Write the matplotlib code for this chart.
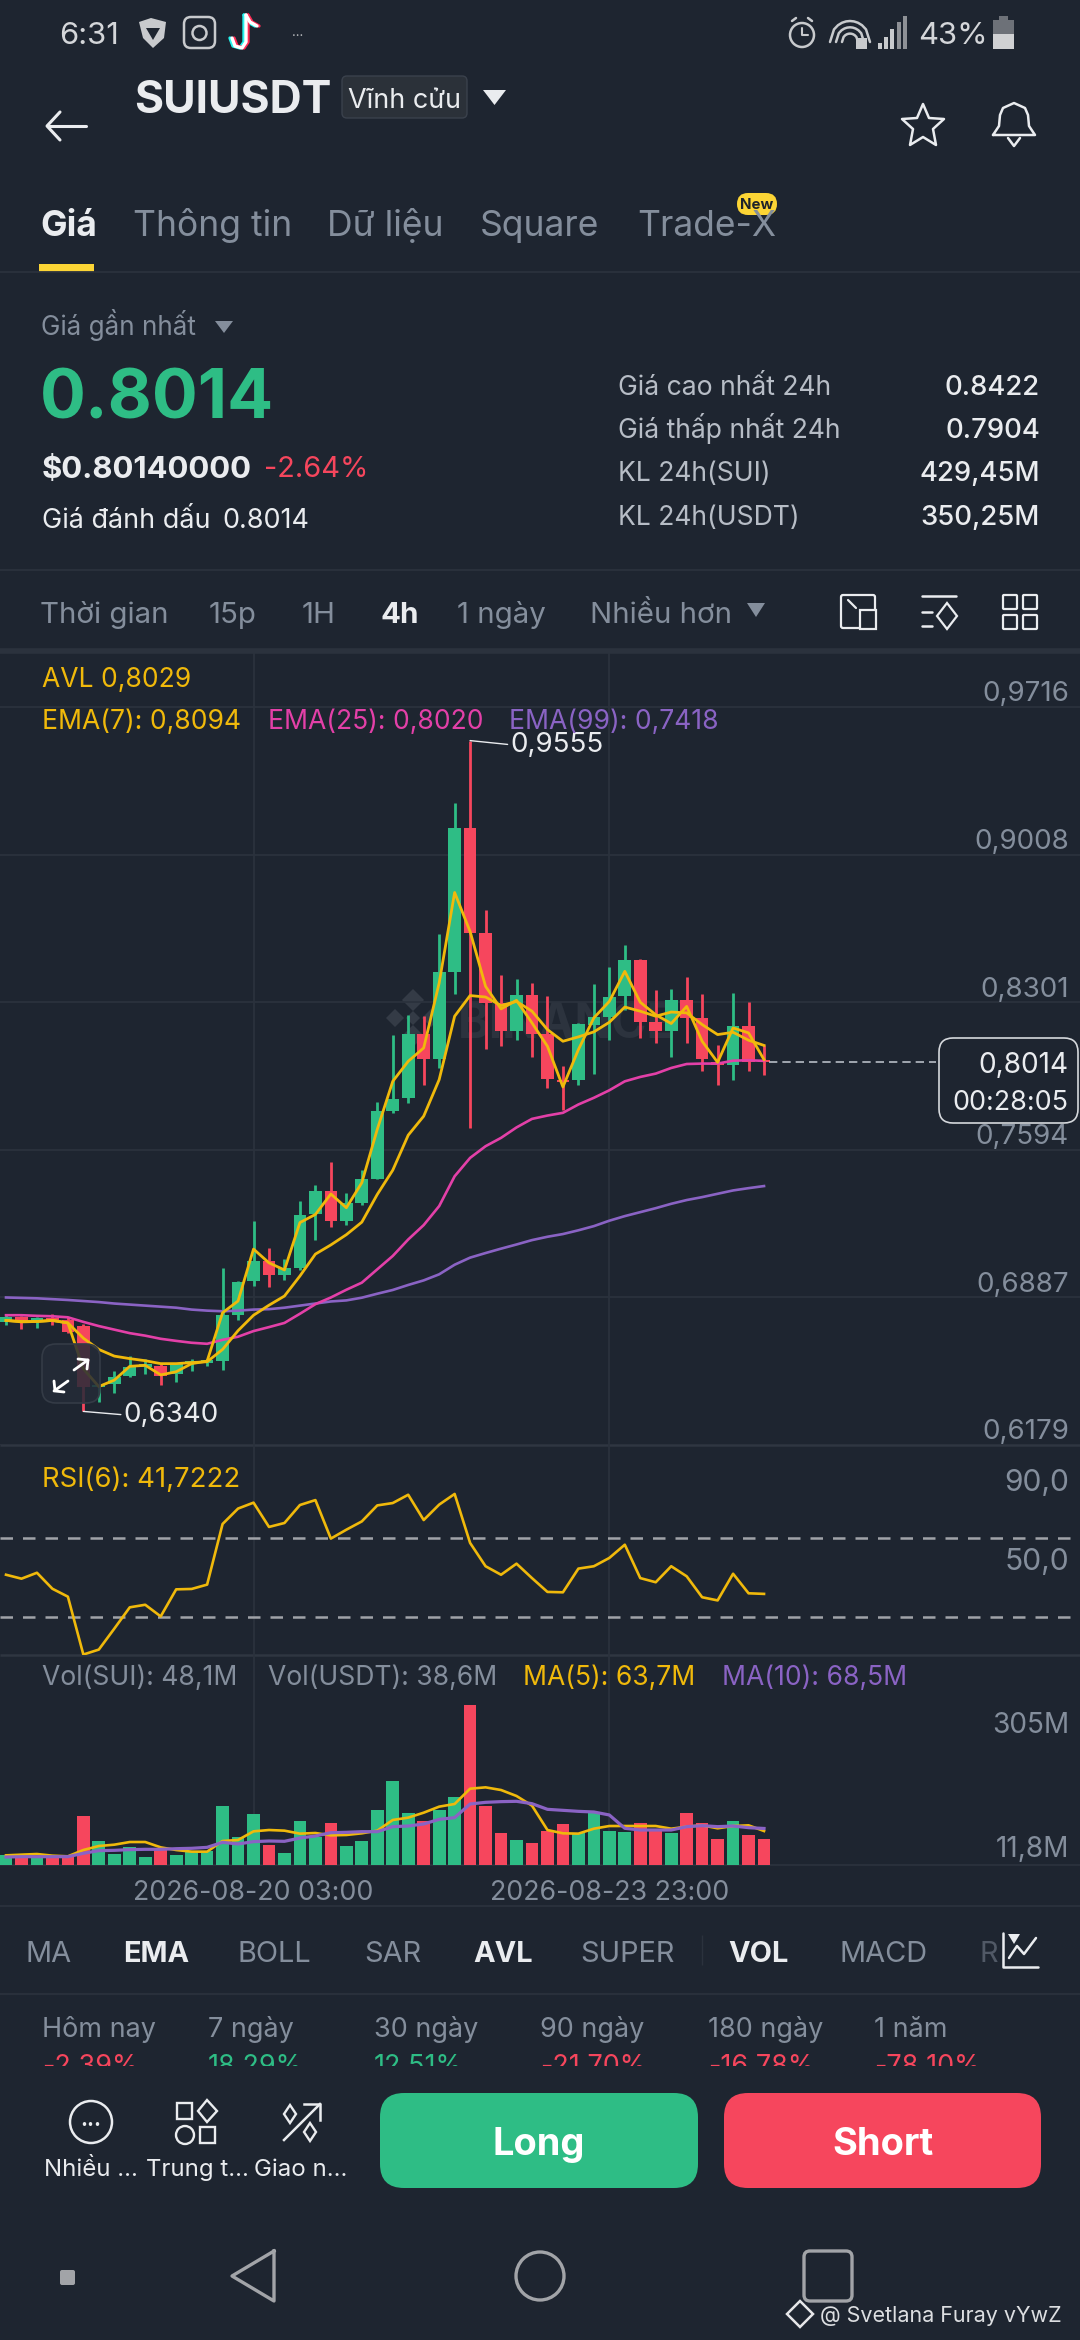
import matplotlib
matplotlib.use('Agg')
import matplotlib.pyplot as plt
from matplotlib.patches import FancyBboxPatch, Polygon, Circle, Rectangle

plt.rcParams['font.family'] = ['Inter', 'Noto Sans', 'DejaVu Sans']

# candles
opens = [.6769, .6793, .6769, .6788, .6776, .6749, .6456, .6471, .6510, .6551,
         .6556, .6520, .6569, .6574, .6581, .6801, .6964, .7062, .6994, .7028,
         .7284, .7394, .7252, .7338, .7455, .7780, .7843, .8151, .8029, .8444,
         .9137, .8633, .8297, .8162, .8337, .8149, .7930, .7926, .8194, .8230,
         .8329, .8505, .8205, .8162, .8313, .8226, .8013, .8001, .8189, .8023]
closes = [.6793, .6769, .6788, .6774, .6720, .6459, .6466, .6503, .6551, .6569,
          .6512, .6569, .6581, .6588, .6801, .6959, .7062, .6996, .7025, .7282,
          .7394, .7252, .7338, .7453, .7778, .7839, .8151, .8029, .8444, .9137,
          .8633, .8297, .8162, .8337, .8151, .7934, .7921, .8197, .8230, .8326,
          .8502, .8205, .8162, .8313, .8226, .8029, .8001, .8189, .8013, .8014]
highs = [.6808, .6798, .6793, .6808, .6793, .6759, .6466, .6532, .6605, .6593,
         .6569, .6574, .6591, .6593, .7028, .6964, .7252, .7125, .7069, .7350,
         .7423, .7536, .7387, .7497, .7824, .8144, .8242, .8234, .8629, .9255,
         .9555, .8744, .8431, .8412, .8393, .8333, .7997, .8202, .8390, .8468,
         .8577, .8508, .8361, .8364, .8422, .8342, .8098, .8345, .8304, .8098]
lows = [.6752, .6735, .6740, .6752, .6715, .6340, .6385, .6429, .6505, .6520,
        .6466, .6483, .6532, .6556, .6539, .6779, .6940, .6935, .6972, .7020,
        .7160, .7223, .7235, .7331, .7453, .7770, .7816, .7902, .7986, .8342,
        .7699, .8077, .8090, .8119, .8037, .7889, .7784, .7906, .7959, .8122,
        .8266, .8130, .8106, .8039, .8106, .7973, .7903, .7930, .7973, .7951]

# overlays on the price panel
avl = [.6776, .6769, .6771, .6776, .6764, .6544, .6459, .6490, .6556, .6561,
       .6515, .6530, .6569, .6581, .6813, .6869, .7118, .7052, .7018, .7245,
       .7284, .7382, .7316, .7436, .7692, .7922, .8018, .8082, .8393, .8827,
       .8640, .8377, .8269, .8310, .8202, .8090, .7895, .8074, .8226, .8305,
       .8449, .8301, .8241, .8199, .8281, .8114, .8013, .8178, .8154, .8026]
ema7 = [.6776, .6771, .6771, .6776, .6764, .6691, .6637, .6605, .6593, .6583,
        .6569, .6569, .6574, .6578, .6637, .6727, .6801, .6849, .6893, .6989,
        .7094, .7138, .7187, .7247, .7380, .7496, .7664, .7755, .7930, .8234,
        .8333, .8326, .8285, .8305, .8258, .8170, .8114, .8135, .8159, .8205,
        .8278, .8258, .8234, .8254, .8250, .8194, .8146, .8157, .8119, .8094]
ema25 = [.6801, .6801, .6798, .6796, .6791, .6769, .6749, .6732, .6715, .6703,
         .6688, .6678, .6669, .6664, .6683, .6698, .6725, .6744, .6764, .6808,
         .6854, .6886, .6923, .6957, .7021, .7085, .7164, .7233, .7324, .7467,
         .7555, .7611, .7651, .7701, .7742, .7758, .7771, .7811, .7843, .7879,
         .7922, .7943, .7959, .7986, .8005, .8007, .8007, .8021, .8023, .8020]
ema99 = [.6886, .6884, .6882, .6878, .6874, .6869, .6864, .6857, .6852, .6847,
         .6842, .6837, .6828, .6823, .6820, .6823, .6828, .6830, .6837, .6847,
         .6857, .6867, .6872, .6885, .6904, .6922, .6946, .6968, .6997, .7043,
         .7077, .7099, .7120, .7140, .7161, .7177, .7190, .7208, .7228, .7254,
         .7276, .7295, .7314, .7335, .7353, .7367, .7383, .7399, .7410, .7420]

rsi = [51.4, 49.4, 52.4, 44.3, 40.3, 11.0, 13.5, 24.1, 34.9, 36.2,
       30.3, 44.0, 44.2, 46.4, 77.1, 84.9, 87.9, 75.6, 77.6, 86.7,
       89.2, 69.7, 74.2, 78.4, 86.5, 87.7, 91.9, 79.1, 86.9, 92.3,
       67.5, 55.7, 51.4, 57.0, 49.7, 42.7, 42.5, 54.5, 55.7, 59.9,
       66.6, 49.7, 47.6, 55.7, 50.6, 40.0, 38.4, 51.9, 42.0, 41.7]

# volume in millions
volume = [18.8, 12.5, 14.4, 12.5, 15.6, 91.9, 45.6, 20.6, 34.4, 15.0,
          31.3, 18.8, 25.0, 26.9, 110.0, 53.1, 95.0, 38.1, 21.9, 83.1,
          53.1, 78.8, 36.3, 45.6, 102.5, 158.1, 97.5, 81.9, 103.1, 126.9,
          300.0, 110.6, 59.4, 46.9, 41.9, 64.4, 77.5, 59.4, 96.9, 63.8,
          61.9, 78.8, 64.4, 59.4, 97.5, 79.4, 48.1, 82.5, 55.6, 48.1]
vol_ma5 = [18.1, 19.4, 20.6, 17.5, 16.3, 28.1, 35.6, 38.1, 43.1, 43.1,
           33.1, 28.1, 25.0, 25.0, 45.0, 46.9, 63.1, 65.6, 64.4, 58.8,
           60.0, 55.6, 56.3, 59.4, 64.4, 84.4, 88.8, 98.1, 109.4, 114.4,
           143.1, 145.6, 140.6, 129.4, 111.3, 65.6, 59.4, 58.8, 68.1, 73.1,
           73.1, 73.1, 73.1, 68.1, 71.9, 74.4, 68.8, 73.1, 74.4, 63.7]
vol_ma10 = [15.0, 15.6, 15.6, 15.6, 15.6, 21.9, 26.9, 27.5, 28.8, 29.4,
            29.4, 30.6, 31.3, 33.1, 42.5, 39.4, 43.8, 45.0, 44.4, 50.6,
            54.4, 60.6, 61.3, 62.5, 62.5, 71.9, 73.1, 76.9, 85.6, 88.8,
            114.4, 117.5, 118.8, 119.4, 115.0, 104.4, 102.5, 100.6, 99.4, 93.8,
            68.8, 65.6, 65.6, 65.6, 71.9, 73.8, 71.9, 73.1, 70.0, 68.5]

price_ticks = [.9716, .9008, .8301, .7594, .6887, .6179]
price_labels = ['0,9716', '0,9008', '0,8301', '0,7594', '0,6887', '0,6179']
date_idx = [16, 39]
date_labels = ['2026-08-20 03:00', '2026-08-23 23:00']
tabs = ['Thông tin', 'Dữ liệu', 'Square', 'Trade-X']
tab_x = [133, 327, 480, 637]
periods = ['Thời gian', '15p', '1H', '1 ngày', 'Nhiều hơn']
period_x = [40, 209, 302, 457, 590]
stats_labels = ['Giá cao nhất 24h', 'Giá thấp nhất 24h', 'KL 24h(SUI)', 'KL 24h(USDT)']
stats_values = ['0.8422', '0.7904', '429,45M', '350,25M']
stats_y = [385, 428, 471, 515]
indicators = ['MA', 'EMA', 'BOLL', 'SAR', 'AVL', 'SUPER', 'VOL', 'MACD']
indicator_x = [25, 123, 238, 364, 473, 580, 728, 840]
indicator_on = ['EMA', 'AVL', 'VOL']
change_labels = ['Hôm nay', '7 ngày', '30 ngày', '90 ngày', '180 ngày', '1 năm']
change_values = ['-2,39%', '18,29%', '12,51%', '-21,70%', '-16,78%', '-78,10%']
change_x = [42, 208, 374, 540, 708, 874]

bg = '#1e2530'
grid = '#2b323d'
green = '#2ebd85'
red = '#f6465d'
yellow = '#f0b90b'
pink = '#e340a8'
purple = '#8a63c4'
grey = '#848e9c'
light = '#eaecef'

W, H = 1080, 2340
fig = plt.figure(figsize=(W / 100, H / 100), dpi=100, facecolor=bg)


def pixel_axes(z):
    a = fig.add_axes([0, 0, 1, 1], zorder=z)
    a.set_xlim(0, W)
    a.set_ylim(H, 0)
    a.axis('off')
    a.patch.set_alpha(0)
    return a


def panel(top, bottom):
    a = fig.add_axes([0, 1 - bottom / H, 1, (bottom - top) / H], zorder=1)
    a.set_facecolor('none')
    for s in a.spines.values():
        s.set_visible(False)
    a.set_xlim(-6 / 15.47, (W - 6) / 15.47)
    a.set_xticks(date_idx)
    a.set_xticklabels([])
    a.tick_params(length=0, labelleft=False, labelbottom=False)
    a.grid(True, color=grid, lw=1.3)
    a.set_axisbelow(True)
    return a


ax_bg = pixel_axes(0)
ax_ui = pixel_axes(2)


# y is the middle of the capitals, so accents do not move the text
def label(x, y, s, px=26.5, color=light, ha='left', weight='normal', target=None, **kw):
    (target or ax_ui).text(x, y + 0.36 * px, s, fontsize=px * 0.72, color=color, ha=ha, va='baseline',
                           fontweight=weight, **kw)


def round_box(x0, y0, x1, y1, r, target=None, **kw):
    p = FancyBboxPatch((x0 + r, y0 + r), x1 - x0 - 2 * r, y1 - y0 - 2 * r,
                       boxstyle=f'round,pad={r},rounding_size={r}', **kw)
    (target or ax_ui).add_patch(p)


def stroke(xs, ys, color=light, lw=2.0):
    ax_ui.plot(xs, ys, color=color, lw=lw, solid_capstyle='round', solid_joinstyle='round')


def tri(x0, x1, y0, y1, color):
    ax_ui.add_patch(Polygon([(x0, y0), (x1, y0), ((x0 + x1) / 2, y1)], color=color, lw=0))


# watermark sits under the candles
for cx, cy, r in [(413, 1000, 11), (413, 1036, 11), (395, 1018, 9), (431, 1018, 9), (413, 1018, 7)]:
    ax_bg.add_patch(Polygon([(cx - r, cy), (cx, cy - r), (cx + r, cy), (cx, cy + r)], color='#343b46', lw=0))
label(458, 1021, 'BINANCE', px=48, color='#2c333e', weight='bold', target=ax_bg)

# panel borders
ax_bg.hlines([651], 0, W, color='#2b323d', lw=4)
ax_bg.hlines([1445, 1655], 0, W, color='#2f3641', lw=1.8)
ax_bg.hlines([1865], 0, W, color=grid, lw=1.3)

# price panel, 0.9716 at y=707 and 0.6179 at y=1445
per_px = (price_ticks[0] - price_ticks[-1]) / (1445 - 707)
ax_price = panel(653, 1445)
ax_price.set_ylim(price_ticks[-1], price_ticks[0] + (707 - 653) * per_px)
ax_price.set_yticks(price_ticks)
idx = list(range(len(closes)))
colors = [green if c >= o else red for o, c in zip(opens, closes)]
ax_price.vlines(idx, lows, highs, colors=colors, lw=2.0, zorder=3)
ax_price.bar(idx, [abs(c - o) for o, c in zip(opens, closes)], bottom=[min(o, c) for o, c in zip(opens, closes)],
             width=0.82, color=colors, zorder=3)
ax_price.plot(idx, ema99, color=purple, lw=1.9, zorder=4)
ax_price.plot(idx, ema25, color=pink, lw=1.9, zorder=4)
ax_price.plot(idx, ema7, color=yellow, lw=2.0, zorder=5)
ax_price.plot(idx, avl, color=yellow, lw=2.0, zorder=5)
ax_price.hlines(closes[-1], idx[-1] + 0.3, 60.1, color='#b7bdc6', lw=1.2, ls=(0, (5, 3)), zorder=3)
for val, s in zip(price_ticks, price_labels):
    ax_price.annotate(s, xy=(1, val), xycoords=('axes fraction', 'data'), xytext=(-8, 4),
                      textcoords='offset points', ha='right', va='baseline', fontsize=20, color=grey)
ax_price.annotate('0,9555', xy=(30, max(highs)), xytext=(29, -8), textcoords='offset points', va='baseline',
                  fontsize=20, color=light, arrowprops=dict(arrowstyle='-', color=light, lw=1, shrinkA=0, shrinkB=0,
                                                            relpos=(0, 0.5)))
ax_price.annotate('0,6340', xy=(5, min(lows)), xytext=(29, -7.5), textcoords='offset points', va='baseline',
                  fontsize=20, color=light, arrowprops=dict(arrowstyle='-', color=light, lw=1, shrinkA=0, shrinkB=0,
                                                            relpos=(0, 0.5)))

# RSI panel, 70 at y=1538 and 30 at y=1617
ax_rsi = panel(1445, 1655)
ax_rsi.set_ylim(70 - (1655 - 1538) / 1.975, 70 + (1538 - 1445) / 1.975)
ax_rsi.set_yticks([])
ax_rsi.axhline(70, color='#a0a3a8', lw=1.8, ls=(0, (5, 4)))
ax_rsi.axhline(30, color='#a0a3a8', lw=1.8, ls=(0, (5, 4)))
ax_rsi.plot(idx, rsi, color=yellow, lw=1.9, zorder=4)

# volume panel
ax_vol = panel(1655, 1865)
ax_vol.set_ylim(0, 210 * 1.875)
ax_vol.set_yticks([])
ax_vol.bar(idx, volume, width=0.82, color=colors, zorder=3)
ax_vol.plot(idx, vol_ma5, color=yellow, lw=1.9, zorder=4)
ax_vol.plot(idx, vol_ma10, color=purple, lw=2.3, zorder=5)

# chart captions
label(42, 677, 'AVL 0,8029', color=yellow)
label(42, 719, 'EMA(7): 0,8094', color=yellow)
label(268, 719, 'EMA(25): 0,8020', color=pink)
label(509, 719, 'EMA(99): 0,7418', color=purple)
label(42, 1477, 'RSI(6): 41,7222', color=yellow, px=27.5)
label(1069, 1480, '90,0', color=grey, ha='right', px=30)
label(1069, 1559, '50,0', color=grey, ha='right', px=30)
label(42, 1675, 'Vol(SUI): 48,1M', color=grey)
label(268, 1675, 'Vol(USDT): 38,6M', color=grey)
label(523, 1675, 'MA(5): 63,7M', color=yellow)
label(722, 1675, 'MA(10): 68,5M', color=purple)
label(1069, 1723, '305M', color=grey, ha='right', px=28)
label(1069, 1847, '11,8M', color=grey, ha='right', px=28)
for i, s in zip(date_idx, date_labels):
    ax_vol.annotate(s, xy=(i, 0), xytext=(0, -25), textcoords='offset points', ha='center', va='baseline',
                    fontsize=19.3, color=grey, annotation_clip=False)

# current price box
round_box(939, 1038, 1078, 1123, 14, facecolor=bg, edgecolor='#d5d8dc', lw=1.2)
label(1068, 1063, '0,8014', px=28, color=light, ha='right')
label(1068, 1100, '00:28:05', px=27, color=light, ha='right')

# expand button
round_box(42, 1344, 100, 1403, 14, facecolor=(0.14, 0.17, 0.22, 0.85), edgecolor='#343b46', lw=1.2)
stroke([74, 88], [1370, 1360], color='white')
stroke([78, 88, 87], [1359, 1360, 1369], color='white')
stroke([54, 68], [1391, 1381], color='white')
stroke([54, 55, 64], [1381, 1391, 1392], color='white')

# status bar
label(59, 33, '6:31', px=31, color='#d4d6d9')
ax_ui.add_patch(Polygon([(139, 22), (151, 18), (166, 22), (164, 38), (153, 48), (143, 38)], color='#c8cacd', lw=0))
ax_ui.add_patch(Polygon([(146, 28), (160, 28), (153, 40)], color=bg, lw=0))
round_box(184, 17, 215, 48, 7, facecolor='none', edgecolor='#c8cacd', lw=1.8)
ax_ui.add_patch(Circle((199.5, 33), 7, facecolor='none', edgecolor='#c8cacd', lw=1.8))
for col, dx in [('#25f4ee', -2), ('#fe2c55', 2), ('white', 0)]:
    stroke([246 + dx, 246 + dx, 242 + dx, 235 + dx, 232 + dx], [15, 42, 48, 46, 38], color=col, lw=2.4)
    stroke([246 + dx, 250 + dx, 257 + dx], [15, 22, 26], color=col, lw=2.4)
label(298, 31, '...', px=13, color='#b9bbbe', ha='center')
ax_ui.add_patch(Circle((802, 35), 12, facecolor='none', edgecolor='#c8cacd', lw=1.8))
stroke([802, 802, 808], [28, 35, 35], color='#c8cacd', lw=1.5)
stroke([792, 796], [21, 18], color='#c8cacd', lw=1.8)
stroke([808, 812], [18, 21], color='#c8cacd', lw=1.8)
for r in [8, 14, 20]:
    t = [i / 10 for i in range(11)]
    stroke([850 + r * (2 * a - 1) for a in t], [42 - r * 1.05 * (1 - (2 * a - 1) ** 2) ** .5 for a in t], color='#c8cacd', lw=1.8)
ax_ui.add_patch(Rectangle((856, 38), 11, 11, color='#c8cacd', lw=0))
for i, h in enumerate([6, 12, 20, 27, 33]):
    ax_ui.add_patch(Rectangle((878 + i * 6.2, 49 - h), 4, h, color='#8e9196' if i > 2 else '#c8cacd', lw=0))
label(918, 33, '43%', px=31, color='#d4d6d9')
ax_ui.add_patch(Rectangle((993, 20), 21, 14, color='#6d7178', lw=0))
ax_ui.add_patch(Rectangle((999, 16), 9, 4, color='#6d7178', lw=0))
ax_ui.add_patch(Rectangle((993, 34), 21, 15, color='#d0d1d3', lw=0))

# title row
stroke([86, 48], [126, 126], lw=2.2)
stroke([60, 47, 60], [112, 126, 140], lw=2.2)
label(134, 97, 'SUIUSDT', px=44.5, color=light, weight='bold')
round_box(342, 76, 467, 118, 5, facecolor='#2b3139', edgecolor='#3a414c', lw=1)
label(404, 98, 'Vĩnh cửu', px=27, ha='center')
tri(483, 506, 90, 105, light)
star = [(923, 104), (929, 118), (944, 119), (933, 129), (936, 145), (923, 137), (910, 145), (913, 129), (902, 119), (917, 118)]
ax_ui.add_patch(Polygon(star, facecolor='none', edgecolor=light, lw=1.8, joinstyle='round'))
stroke([993, 999, 1000, 1003, 1014, 1025, 1028, 1029, 1035, 993],
       [135, 126, 115, 108, 103, 108, 115, 126, 135, 135], lw=1.8)
stroke([1008, 1014, 1020], [138, 146, 138], lw=1.8)

# tabs
label(40, 223, 'Giá', px=35.5, weight='bold')
for x, s in zip(tab_x, tabs):
    label(x, 223, s, px=35.5, color=grey)
ax_ui.add_patch(Rectangle((39, 264), 55, 8, color='#fcd535', lw=0))
ax_ui.hlines(272, 0, W, color=grid, lw=1.3)
round_box(737, 193, 777, 215, 11, facecolor='#fcd535', edgecolor='none')
label(757, 204, 'New', px=15, color='#1e2329', ha='center', weight='bold')

# price header
label(41, 326, 'Giá gần nhất', px=26, color=grey)
tri(215, 233, 321, 333, grey)
label(40, 394, '0.8014', px=68, color=green, weight='bold')
label(42, 467, '$0.80140000', px=31, color=light, weight='bold')
label(264, 467, '-2.64%', px=29, color=red)
label(42, 518, 'Giá đánh dấu', px=27, color=light)
label(222, 518, '0.8014', px=27, color=light)
for y, a, b in zip(stats_y, stats_labels, stats_values):
    label(618, y, a, px=26.5, color='#b7bdc6')
    label(1040, y, b, px=27.5, color=light, ha='right', weight='medium')
ax_ui.hlines(570, 0, W, color=grid, lw=1.3)

# interval row
for x, s in zip(period_x, periods):
    label(x, 612, s, px=29.5, color=grey)
label(380, 612, '4h', px=29.5, weight='bold')
tri(747, 765, 603, 617, grey)
round_box(841, 595, 875, 628, 2, facecolor='none', edgecolor=light, lw=1.6)
ax_ui.add_patch(Rectangle((860, 610), 16, 19, facecolor=bg, edgecolor=light, lw=1.6))
stroke([848, 856], [600, 608], lw=1.6)
stroke([922, 956], [596, 596], lw=1.8)
stroke([922, 932], [612, 612], lw=1.8)
stroke([922, 932], [626, 626], lw=1.8)
ax_ui.add_patch(Polygon([(947, 603), (957, 616), (947, 629), (937, 616)], facecolor='none', edgecolor=light, lw=1.6))
for x0, y0 in [(1003, 595), (1023, 595), (1003, 615), (1023, 615)]:
    round_box(x0, y0, x0 + 14, y0 + 14, 1, facecolor='none', edgecolor=light, lw=1.6)

# indicator row
ax_ui.hlines(1906, 0, W, color=grid, lw=1.3)
for x, s in zip(indicator_x, indicators):
    if s in indicator_on:
        label(x, 1952, s, px=29, color=light, weight='bold')
    else:
        label(x, 1952, s, px=29, color=grey)
label(980, 1952, 'R', px=29, color=grey, alpha=0.5)
ax_ui.vlines(702, 1935, 1965, color=grid, lw=1)
stroke([1003, 1003, 1038], [1933, 1967, 1967], lw=1.8)
stroke([1009, 1017, 1024, 1036], [1958, 1946, 1954, 1938], lw=1.8)
tri(1008, 1020, 1934, 1944, light)
ax_ui.hlines(1994, 0, W, color=grid, lw=1.3)

# change table, second row is cut by the button bar
for x, a, b in zip(change_x, change_labels, change_values):
    label(x, 2027, a, px=27, color=grey)
    label(x, 2064, b, px=27, color=red if b.startswith('-') else green)
ax_ui.add_patch(Rectangle((0, 2066), W, 274, color=bg, lw=0, zorder=3))

# bottom buttons
round_box(380, 2093, 698, 2188, 24, facecolor=green, edgecolor='none', zorder=4)
round_box(724, 2093, 1041, 2188, 24, facecolor=red, edgecolor='none', zorder=4)
label(539, 2141, 'Long', px=38, color='white', ha='center', weight='bold', zorder=5)
label(883, 2141, 'Short', px=38, color='white', ha='center', weight='bold', zorder=5)
for x, s in zip([91, 197, 301], ['Nhiều ...', 'Trung t...', 'Giao n...']):
    label(x, 2167, s, px=24, color=light, ha='center', zorder=5)


def icon_patch(p):
    p.set_zorder(5)
    ax_ui.add_patch(p)


icon_patch(Circle((91, 2122), 21, facecolor='none', edgecolor=light, lw=1.8))
label(91, 2118, '...', px=21, color=light, ha='center', weight='bold', zorder=5)
icon_patch(Rectangle((177, 2103), 15, 16, facecolor='none', edgecolor=light, lw=1.7))
icon_patch(Polygon([(207, 2100), (217, 2111), (207, 2122), (198, 2111)], facecolor='none', edgecolor=light, lw=1.7))
icon_patch(Circle((185, 2135), 9, facecolor='none', edgecolor=light, lw=1.7))
icon_patch(Rectangle((200, 2127), 15, 16, facecolor='none', edgecolor=light, lw=1.7))
ax_ui.plot([284, 320], [2140, 2104], color=light, lw=1.8, zorder=5)
ax_ui.plot([304, 320, 320], [2104, 2104, 2120], color=light, lw=1.8, zorder=5)
icon_patch(Polygon([(290, 2105), (296, 2114), (290, 2123), (284, 2114)], facecolor='none', edgecolor=light, lw=1.7))
icon_patch(Polygon([(310, 2123), (316, 2132), (310, 2141), (304, 2132)], facecolor='none', edgecolor=light, lw=1.7))

# navigation bar
nav = '#a2a4a8'
round_box(60, 2270, 75, 2285, 2, facecolor=nav, edgecolor='none', zorder=5)
ax_ui.plot([274, 274, 232, 274], [2251, 2301, 2276, 2251], color=nav, lw=2.4, zorder=5, solid_joinstyle='round')
icon_patch(Circle((540, 2276), 24, facecolor='none', edgecolor=nav, lw=2.4))
round_box(804, 2251, 852, 2301, 6, facecolor='none', edgecolor=nav, lw=2.4, zorder=5)

# share watermark
icon_patch(Polygon([(800, 2301), (813, 2314), (800, 2327), (787, 2314)], facecolor='none', edgecolor='#e6e7e9', lw=1.8))
label(820, 2314, '@ Svetlana Furay vYwZ', px=21.5, color='#dcdee1', zorder=6)

fig.savefig('out.png', dpi=100, facecolor=bg)
